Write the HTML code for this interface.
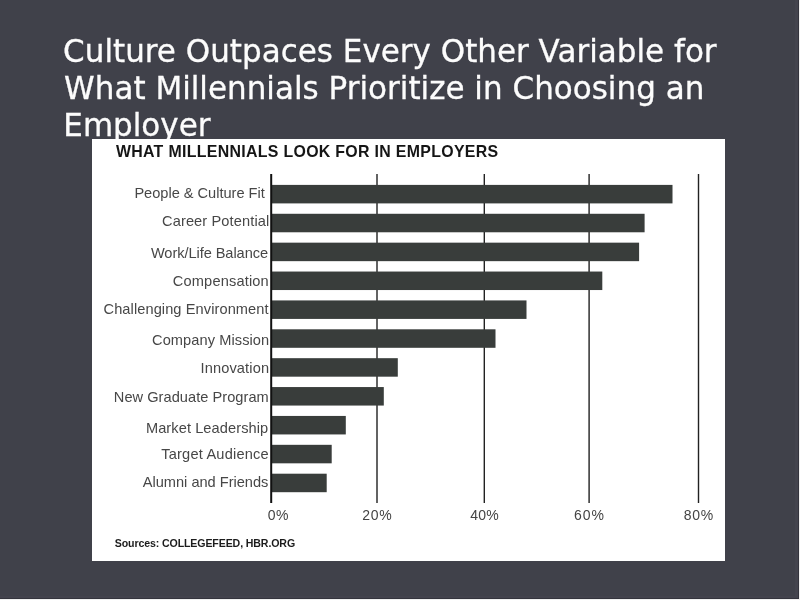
<!DOCTYPE html>
<html><head><meta charset="utf-8">
<style>
html,body{margin:0;padding:0;}
body{width:800px;height:600px;position:relative;overflow:hidden;background:#f0f0f0;}
#wrap{position:absolute;left:0;top:0;width:800px;height:600px;will-change:transform;}
#slide{position:absolute;left:0;top:0;width:799px;height:599px;background:#40414a;box-sizing:border-box;border-right:1px solid #34343d;border-bottom:1px solid #34343d;}
#rb{position:absolute;left:795px;top:0;width:3px;height:598px;background:#44444e;}
#bb{position:absolute;left:0;top:596px;width:798px;height:2px;background:#43434d;}
.tl{position:absolute;font-family:"DejaVu Sans",sans-serif;font-size:31px;line-height:37.3px;color:#fcfcfc;white-space:nowrap;-webkit-text-stroke:0.3px #fcfcfc;transform:scaleY(1.035);transform-origin:0 29px;}
svg{position:absolute;left:0;top:0;}
.hdr{position:absolute;left:115.9px;top:141.5px;font-family:"Liberation Sans",sans-serif;font-weight:bold;font-size:15.9px;line-height:20px;letter-spacing:0.319px;color:#151515;white-space:nowrap;}
.src{position:absolute;left:114.75px;top:535.6px;font-family:"Liberation Sans",sans-serif;font-weight:bold;font-size:10.6px;line-height:14px;letter-spacing:-0.117px;color:#1c1c1c;white-space:nowrap;}
.lbl{position:absolute;font-family:"Liberation Sans",sans-serif;font-size:14.6px;line-height:20px;color:#474747;white-space:nowrap;}
.ax{position:absolute;top:506.7px;font-family:"Liberation Sans",sans-serif;font-size:14px;line-height:16px;color:#444;white-space:nowrap;}
</style></head><body>
<div id="wrap">
<div id="slide"></div><div id="rb"></div><div id="bb"></div>
<div class="tl" style="left:63.1px;top:33px">Culture Outpaces Every Other Variable for</div>
<div class="tl" style="left:64.1px;top:69.6px">What Millennials Prioritize in Choosing an</div>
<div class="tl" style="left:63.3px;top:106.8px">Employer</div>
<svg width="800" height="600" viewBox="0 0 800 600">
<rect x="92" y="139" width="633" height="422" fill="#fff"/>
<g fill="#222">
<rect x="376.30" y="174" width="1.4" height="329"/>
<rect x="483.60" y="174" width="1.4" height="329"/>
<rect x="588.40" y="174" width="1.4" height="329"/>
<rect x="697.80" y="174" width="1.4" height="329"/>
</g>
<g fill="#393d3b">
<rect x="272" y="184.90" width="400.50" height="18.5"/>
<rect x="272" y="213.78" width="372.60" height="18.5"/>
<rect x="272" y="242.66" width="367.10" height="18.5"/>
<rect x="272" y="271.54" width="330.30" height="18.5"/>
<rect x="272" y="300.42" width="254.50" height="18.5"/>
<rect x="272" y="329.30" width="223.50" height="18.5"/>
<rect x="272" y="358.18" width="125.80" height="18.5"/>
<rect x="272" y="387.06" width="111.80" height="18.5"/>
<rect x="272" y="415.94" width="73.80" height="18.5"/>
<rect x="272" y="444.82" width="59.70" height="18.5"/>
<rect x="272" y="473.70" width="54.70" height="18.5"/>
</g>
<rect x="270.2" y="174" width="2" height="329" fill="#111"/>
</svg>
<div class="hdr">WHAT MILLENNIALS LOOK FOR IN EMPLOYERS</div>
<div class="lbl" style="left:134.4px;top:183.34px;letter-spacing:-0.01px">People &amp; Culture Fit</div>
<div class="lbl" style="left:162px;top:210.64px;letter-spacing:0.12px">Career Potential</div>
<div class="lbl" style="left:150.9px;top:242.54px;letter-spacing:-0.063px">Work/Life Balance</div>
<div class="lbl" style="left:172.8px;top:270.74px;letter-spacing:0.163px">Compensation</div>
<div class="lbl" style="left:103.5px;top:298.54px;letter-spacing:0.091px">Challenging Environment</div>
<div class="lbl" style="left:152px;top:329.94px;letter-spacing:0.086px">Company Mission</div>
<div class="lbl" style="left:200.5px;top:357.74px;letter-spacing:0.134px">Innovation</div>
<div class="lbl" style="left:113.8px;top:387.04px;letter-spacing:0.042px">New Graduate Program</div>
<div class="lbl" style="left:145.9px;top:417.54px;letter-spacing:0.088px">Market Leadership</div>
<div class="lbl" style="left:161.2px;top:443.74px;letter-spacing:0.2px">Target Audience</div>
<div class="lbl" style="left:142.8px;top:471.94px;letter-spacing:-0.011px">Alumni and Friends</div>
<div class="ax" style="left:267.7px;letter-spacing:0.6px">0%</div>
<div class="ax" style="left:362.2px;letter-spacing:0.8px">20%</div>
<div class="ax" style="left:470.2px;letter-spacing:0.3px">40%</div>
<div class="ax" style="left:573.9px;letter-spacing:1.0px">60%</div>
<div class="ax" style="left:683.75px;letter-spacing:0.75px">80%</div>
<div class="src">Sources: COLLEGEFEED, HBR.ORG</div>
</div>
</body></html>
